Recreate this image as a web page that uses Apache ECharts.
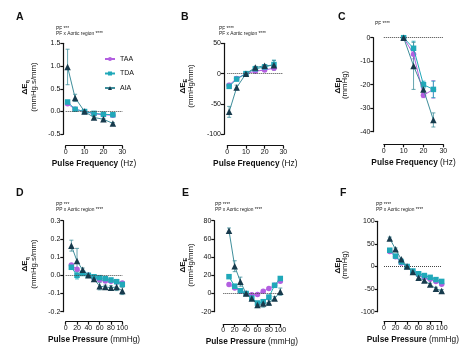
<!DOCTYPE html>
<html><head><meta charset="utf-8">
<script src="https://cdn.jsdelivr.net/npm/echarts@6/dist/echarts.min.js"></script>
<style>html,body{margin:0;padding:0;background:#fff}#c{width:474px;height:361px}</style>
</head><body><div id="c"></div>
<script>
// ---- categories / x values ----
const pfX = [1, 5, 10, 15, 20, 25];
const pfXC = [10, 15, 20, 25];
const ppX = [10, 20, 30, 40, 50, 60, 70, 80, 90, 100];
const regionNames = ['TAA', 'TDA', 'AIA'];

// ---- Panel A: ΔEη vs pulse frequency ----
const aTAA = [0.17, 0.05, 0, -0.05, -0.07, -0.08];
const aTDA = [0.21, 0.05, 0, -0.04, -0.06, -0.07];
const aAIA = [0.98, 0.30, 0, -0.13, -0.17, -0.26];
const aTAAe = [0.03, 0.02, 0, 0.02, 0.02, 0.02];
const aTDAe = [0.03, 0.02, 0, 0.02, 0.02, 0.02];
const aAIAe = [0.39, 0.08, 0, 0.03, 0.02, 0.02];

// ---- Panel B: ΔEE vs pulse frequency ----
const bTAA = [-19, -8, 0, 4, 6, 9];
const bTDA = [-21, -9, 0, 8, 11, 15];
const bAIA = [-63, -23, 0, 10, 13, 14];
const bTAAe = [3, 2, 0, 2, 2, 2];
const bTDAe = [3, 2, 0, 2, 3, 7];
const bAIAe = [9, 4, 0, 2, 2, 8];

// ---- Panel C: ΔEp vs pulse frequency ----
const cTAA = [0, -7, -24.5, -22];
const cTDA = [0, -4.5, -20, -22];
const cAIA = [0, -12, -22, -35];
const cTAAe = [0, 2, 1, 3.7];
const cTDAe = [0, 3, 1.5, 3.5];
const cAIAe = [0, 10, 2, 3];

// ---- Panel D: ΔEη vs pulse pressure ----
const dTAA = [0.057, 0.033, 0.013, 0, -0.015, -0.024, -0.031, -0.033, -0.037, -0.042];
const dTDA = [0.044, 0.000, 0.010, 0, -0.008, -0.013, -0.018, -0.026, -0.035, -0.050];
const dAIA = [0.163, 0.078, 0.030, 0, -0.020, -0.060, -0.064, -0.068, -0.064, -0.086];
const dTAAe = [0.008, 0.008, 0.006, 0, 0.006, 0.006, 0.006, 0.006, 0.006, 0.008];
const dTDAe = [0.01, 0.02, 0.01, 0, 0.01, 0.01, 0.01, 0.01, 0.01, 0.01];
const dAIAe = [0.03, 0.07, 0.01, 0, 0.01, 0.02, 0.01, 0.01, 0.02, 0.02];

// ---- Panel E: ΔEE vs pulse pressure ----
const eTAA = [10, 6, 2.5, 0, -1.5, -1, 2.5, 5.5, 9, 13.5];
const eTDA = [18.5, 8, 3, 0, -5, -10.5, -9, -4, 9, 16.5];
const eAIA = [69, 30, 13, 0, -5.5, -12.5, -11, -10, -5.5, 2];
const eTAAe = [1.5, 1.5, 1.5, 0, 1, 1, 1, 1, 1, 1.5];
const eTDAe = [2, 2, 2, 0, 2, 2, 2, 2, 1.5, 2];
const eAIAe = [3, 6, 5, 0, 2, 3, 4, 3, 2, 4];

// ---- Panel F: ΔEp vs pulse pressure ----
const fTAA = [33, 21.5, 8, 0, -11, -19, -24.5, -28, -33, -39];
const fTDA = [36, 23, 10, 0, -10, -16, -20, -24, -29, -33];
const fAIA = [62, 38, 16, 0, -12, -25, -31, -40, -49, -54];
const fTAAe = [3, 2, 2, 0, 2, 2, 2, 2, 2, 3];
const fTDAe = [3, 2, 2, 0, 2, 2, 2, 2, 3, 3];
const fAIAe = [3, 3, 2, 0, 2, 3, 3, 3, 3, 3];

// ---- styling ----
const FONT = 'Liberation Sans, Arial, Helvetica, sans-serif';
const INK = '#111';
const markerColors = ['#b35fe0', '#20a8b9', '#173a4c'];
const lineColors = ['#b35fe0', '#20a8b9', '#3f8e9b'];
const symbols = ['circle', 'rect', 'triangle'];

const panels = [
  {letter: 'A', xs: pfX, ys: [aTAA, aTDA, aAIA], es: [aTAAe, aTDAe, aAIAe],
   g: {left: 65.7, top: 43.3, width: 56.6, height: 91}, xr: [0, 30, 10], yr: [-0.5, 1.5, 0.5], yOff: 2.4, xOff: 11.4, dec: 1, refX: 10,
   xName: ['Pulse Frequency', '(Hz)'], yName: ['ΔE', 'η', '(mmHg.s/mm)'], stats: ['PF ***', 'PF x Aortic region ****'],
   letterPos: [16, 11.5], statPos: [56, 28.3], yNamePos: [25, 33.5, 87]},
  {letter: 'B', xs: pfX, ys: [bTAA, bTDA, bAIA], es: [bTAAe, bTDAe, bAIAe],
   g: {left: 227.3, top: 43.3, width: 56, height: 91}, xr: [0, 30, 10], yr: [-100, 50, 50], yOff: 3.3, xOff: 11.4, dec: 0, refX: 10,
   xName: ['Pulse Frequency', '(Hz)'], yName: ['ΔE', 'E', '(mmHg/mm)'], stats: ['PF ****', 'PF x Aortic region ****'],
   letterPos: [181, 11.5], statPos: [219, 28.3], yNamePos: [183, 191, 86]},
  {letter: 'C', xs: pfXC, ys: [cTAA, cTDA, cAIA], es: [cTAAe, cTDAe, cAIAe],
   g: {left: 383.8, top: 37.7, width: 59.5, height: 94}, xr: [0, 30, 10], yr: [-40, 0, 10], yOff: 10.5, xOff: 12.6, dec: 0, refX: 10,
   xName: ['Pulse Frequency', '(Hz)'], yName: ['ΔEp', '', '(mmHg)'], stats: ['PF ****'],
   letterPos: [338, 11.5], statPos: [375, 24], yNamePos: [338, 345, 85]},
  {letter: 'D', xs: ppX, ys: [dTAA, dTDA, dAIA], es: [dTAAe, dTDAe, dAIAe],
   g: {left: 65.7, top: 220.7, width: 56.6, height: 91}, xr: [0, 100, 20], yr: [-0.2, 0.3, 0.1], yOff: 2.4, xOff: 10, dec: 1, refX: 40,
   xName: ['Pulse Pressure', '(mmHg)'], yName: ['ΔE', 'η', '(mmHg.s/mm)'], stats: ['PP ***', 'PP x Aortic region ****'],
   letterPos: [16, 187.5], statPos: [56, 204.3], yNamePos: [25, 33.5, 264]},
  {letter: 'E', xs: ppX, ys: [eTAA, eTDA, eAIA], es: [eTAAe, eTDAe, eAIAe],
   g: {left: 223.3, top: 220.7, width: 57, height: 91}, xr: [0, 100, 20], yr: [-20, 80, 20], yOff: 9, xOff: 12.3, dec: 0, refX: 40,
   xName: ['Pulse Pressure', '(mmHg)'], yName: ['ΔE', 'E', '(mmHg/mm)'], stats: ['PP ****', 'PP x Aortic region ****'],
   letterPos: [182, 187.5], statPos: [215, 204.3], yNamePos: [183, 191, 265]},
  {letter: 'F', xs: ppX, ys: [fTAA, fTDA, fAIA], es: [fTAAe, fTDAe, fAIAe],
   g: {left: 384, top: 221.3, width: 57.7, height: 90.4}, xr: [0, 100, 20], yr: [-100, 100, 50], yOff: 6.3, xOff: 10, dec: 0, refX: 40,
   xName: ['Pulse Pressure', '(mmHg)'], yName: ['ΔEp', '', '(mmHg)'], stats: ['PP ****', 'PP x Aortic region ****'],
   letterPos: [340, 187.5], statPos: [376, 204.3], yNamePos: [338, 345, 265]}
];

const axisLineStyle = {color: INK, width: 1.2};
const grids = [], xAxes = [], yAxes = [], series = [], graphics = [];

panels.forEach((p, gi) => {
  grids.push(Object.assign({outerBoundsMode: 'none', containLabel: false}, p.g));
  xAxes.push({
    type: 'value', gridIndex: gi, min: p.xr[0], max: p.xr[1], interval: p.xr[2], offset: p.xOff,
    axisLine: {show: true, onZero: false, lineStyle: axisLineStyle},
    axisTick: {show: true, length: 3, lineStyle: axisLineStyle},
    axisLabel: {fontSize: 7, margin: 3, color: INK, fontFamily: FONT},
    splitLine: {show: false},
    name: '{b|' + p.xName[0] + '} {n|' + p.xName[1] + '}',
    nameLocation: 'middle', nameGap: 14,
    nameTextStyle: {color: INK, fontFamily: FONT, fontSize: 8.3,
      rich: {b: {fontWeight: 'bold', fontSize: 8.3, fontFamily: FONT, color: INK},
             n: {fontSize: 8.3, fontFamily: FONT, color: INK}}}
  });
  yAxes.push({
    type: 'value', gridIndex: gi, min: p.yr[0], max: p.yr[1], interval: p.yr[2], offset: p.yOff,
    axisLine: {show: true, onZero: false, lineStyle: axisLineStyle},
    axisTick: {show: true, length: 3, lineStyle: axisLineStyle},
    axisLabel: {fontSize: 7, margin: 3, color: INK, fontFamily: FONT,
      formatter: v => v.toFixed(p.dec)},
    splitLine: {show: false}
  });
  const yMin = p.yr[0], yMax = p.yr[1];
  const yExt = yMin - p.xOff * (yMax - yMin) / p.g.height;
  for (let s = 0; s < 3; s++) {
    const col = markerColors[s];
    series.push({
      type: 'custom', xAxisIndex: gi, yAxisIndex: gi, z: 2, silent: true, animation: false,
      data: p.xs.map((x, i) => [x, p.ys[s][i], p.es[s][i]]),
      renderItem: (params, api) => {
        const x = api.value(0), y = api.value(1), e = api.value(2);
        if (!e) return null;
        const t = api.coord([x, y + e]), b = api.coord([x, y - e]);
        const w = 2;
        const st = {stroke: lineColors[s], lineWidth: 0.8};
        return {type: 'group', children: [
          {type: 'line', shape: {x1: t[0], y1: t[1], x2: b[0], y2: b[1]}, style: st},
          {type: 'line', shape: {x1: t[0] - w, y1: t[1], x2: t[0] + w, y2: t[1]}, style: st},
          {type: 'line', shape: {x1: b[0] - w, y1: b[1], x2: b[0] + w, y2: b[1]}, style: st}
        ]};
      }
    });
    const ser = {
      type: 'line', name: regionNames[s], xAxisIndex: gi, yAxisIndex: gi, z: 3 + s,
      animation: false, clip: false,
      data: p.xs.map((x, i) => [x, p.ys[s][i]]),
      symbol: symbols[s], symbolSize: s === 2 ? 6.5 : 5.5, showSymbol: true,
      lineStyle: {width: 1, color: lineColors[s]},
      itemStyle: {color: col}
    };
    if (s === 0) {
      ser.markLine = {
        silent: true, animation: false, symbol: ['none', 'none'],
        label: {show: false},
        lineStyle: {type: 'dotted', color: '#444', width: 1},
        data: [
          [{coord: [p.refX, yMax]}, {coord: [p.refX, yExt]}],
          [{coord: [p.xr[0], 0]}, {coord: [p.xr[1], 0]}]
        ]
      };
    }
    series.push(ser);
  }
  graphics.push({type: 'text', left: p.letterPos[0], top: p.letterPos[1],
    style: {text: p.letter, fontSize: 10.5, fontWeight: 'bold', fontFamily: FONT, fill: INK}});
  p.stats.forEach((t, k) => {
    graphics.push({type: 'text', x: p.statPos[0], y: p.statPos[1] + k * 5,
      style: {text: t, fontSize: 4.8, fontFamily: FONT, fill: '#222', textVerticalAlign: 'middle'}});
  });
  // rotated y-axis title: main symbol + subscript, then unit line
  const mainW = p.yName[1] ? 11 : 15, subW = p.yName[1] ? 4 : 0;
  const split = p.yNamePos[2] + (mainW + subW) / 2 - mainW;
  graphics.push({type: 'text', x: p.yNamePos[0], y: split, rotation: Math.PI / 2,
    style: {text: p.yName[0], fontSize: 8, fontWeight: 'bold', fontFamily: FONT, fill: INK,
      textAlign: 'right', textVerticalAlign: 'middle'}});
  if (p.yName[1]) {
    graphics.push({type: 'text', x: p.yNamePos[0] + 2, y: split, rotation: Math.PI / 2,
      style: {text: p.yName[1], fontSize: 5.5, fontWeight: 'bold', fontFamily: FONT, fill: INK,
        textAlign: 'left', textVerticalAlign: 'middle'}});
  }
  graphics.push({type: 'text', x: p.yNamePos[1], y: p.yNamePos[2], rotation: Math.PI / 2,
    style: {text: p.yName[2], fontSize: 7.8, fontFamily: FONT, fill: INK, textAlign: 'center', textVerticalAlign: 'middle'}});
});

const chart = echarts.init(document.getElementById('c'), null, {renderer: 'canvas'});
chart.setOption({
  backgroundColor: '#fff',
  animation: false,
  textStyle: {fontFamily: FONT},
  grid: grids, xAxis: xAxes, yAxis: yAxes, series: series,
  legend: {data: regionNames, orient: 'vertical', left: 99, top: 50.5, itemGap: 7.5,
    itemWidth: 10, itemHeight: 5, textStyle: {fontSize: 7, fontFamily: FONT, color: INK}},
  graphic: graphics
});
</script></body></html>
